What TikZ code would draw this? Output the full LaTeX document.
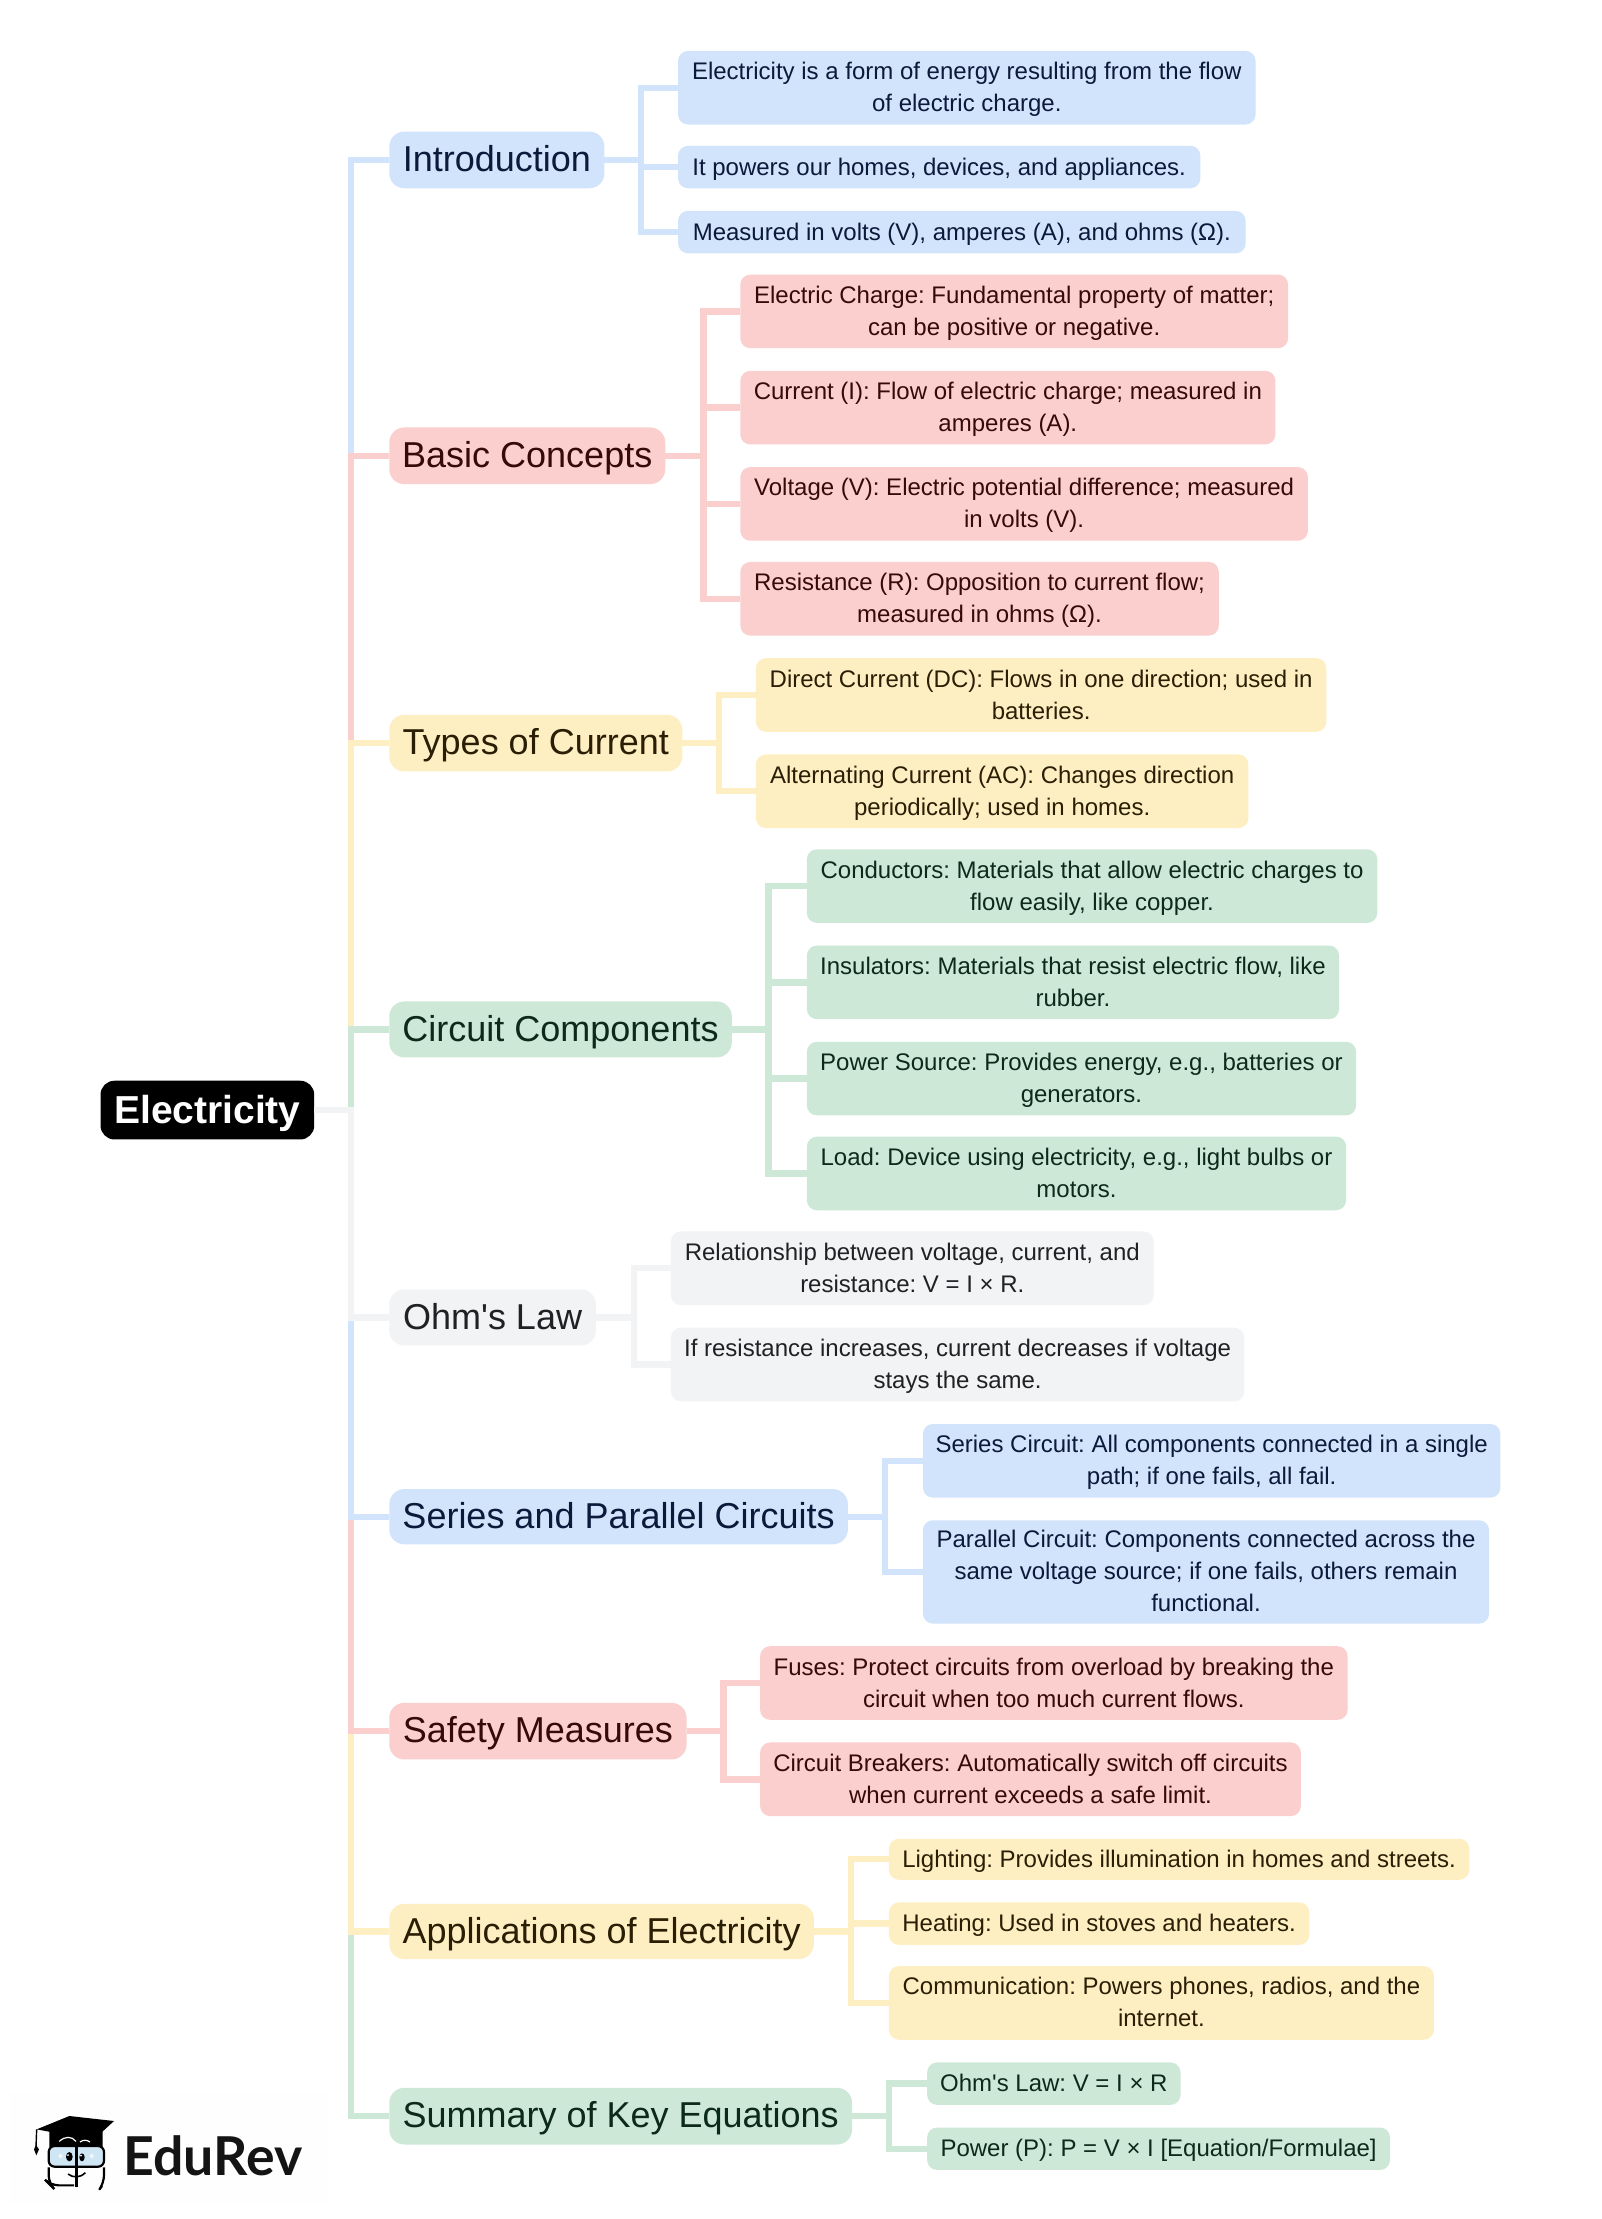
\documentclass[tikz,border=0pt]{standalone}
\usepackage{fontspec}
\newfontfamily\dia{Liberation Sans}
\newfontfamily\logofont{Lato}
\definecolor{blueF}{HTML}{D2E3FC}\definecolor{blueT}{HTML}{0A1A3A}
\definecolor{redF}{HTML}{FACFCE}\definecolor{redT}{HTML}{360A0A}
\definecolor{yelF}{HTML}{FEEFC3}\definecolor{yelT}{HTML}{2A1F05}
\definecolor{greF}{HTML}{CEE8D8}\definecolor{greT}{HTML}{0C2A1A}
\definecolor{gryF}{HTML}{F1F3F4}\definecolor{gryT}{HTML}{202124}
\definecolor{eyeblue}{HTML}{CFE6F5}
\definecolor{logobg}{HTML}{FEFEFE}
\newcommand\topstrut{\strut}
\tikzset{
  box/.style={inner sep=0pt,outer sep=0pt,align=center,anchor=center},
  rootbox/.style={box,fill=black,text=white,rounded corners=7pt,font=\dia\frenchspacing\fontsize{19.5}{24}\selectfont\bfseries,execute at begin node={\def\topstrut{\rule{0pt}{20.4pt}}}},
  branch/.style={box,rounded corners=7.5pt,font=\dia\frenchspacing\fontsize{18}{22}\selectfont,execute at begin node={\def\topstrut{\rule{0pt}{18.2pt}}}},
  leaf/.style={box,rounded corners=5pt,font=\dia\frenchspacing\fontsize{12}{16}\selectfont,execute at begin node={\def\topstrut{\rule{0pt}{12.8pt}}}},
  bl/.style={fill=blueF,text=blueT},
  rd/.style={fill=redF,text=redT},
  yl/.style={fill=yelF,text=yelT},
  gr/.style={fill=greF,text=greT},
  gy/.style={fill=gryF,text=gryT},
  conn/.style={line width=3.2pt,line join=miter,line cap=butt},
}
\newcommand\nd[7]{%
  \pgfmathsetmacro\nw{(#5-#3)*0.70775}%
  \pgfmathsetmacro\nh{(#6-#4)*0.70775}%
  \node[#2,minimum width=\nw pt,minimum height=\nh pt] (#1) at ({(#3+#5)/2},{(#4+#6)/2}) {\topstrut #7\strut};}
\newcommand\lnk[4]{\draw[conn,draw=#1] (#2.east) -- (#4 |- #2.east) -- (#4 |- #3.west) -- (#3.west);}
\begin{document}
\begin{tikzpicture}[x=0.5pt,y=-0.5pt]
\useasboundingbox (0,0) rectangle (1601,2219);
\fill[white] (0,0) rectangle (1601,2219);
\fill[logobg] (10,2092) rectangle (327,2204);
\begin{scope}[x=0.70775pt,y=-0.70775pt]
\coordinate (trunk) at (248,0);
\nd{root}{rootbox}{71}{763.5}{222}{805}{Electricity}
% branches
\nd{intro}{branch,bl}{275}{93}{427}{133}{Introduction}
\nd{basic}{branch,rd}{275}{302}{470}{342}{Basic Concepts}
\nd{types}{branch,yl}{275}{505}{482}{545}{Types of Current}
\nd{circ}{branch,gr}{275}{707.5}{517}{747}{Circuit Components}
\nd{ohm}{branch,gy}{275}{911}{421}{950.5}{Ohm's Law}
\nd{series}{branch,bl}{275}{1052}{599}{1091}{Series and Parallel Circuits}
\nd{safety}{branch,rd}{275}{1203}{485}{1243}{Safety Measures}
\nd{appl}{branch,yl}{275}{1345}{575}{1384}{Applications of Electricity}
\nd{summ}{branch,gr}{275}{1475}{602}{1515}{Summary of Key Equations}
% leaves
\nd{a1}{leaf,bl}{479}{36}{887}{88}{Electricity is a form of energy resulting from the flow\\of electric charge.}
\nd{a2}{leaf,bl}{479}{103}{848}{133}{It powers our homes, devices, and appliances.}
\nd{a3}{leaf,bl}{479}{149}{880}{179}{Measured in volts (V), amperes (A), and ohms (Ω).}
\nd{b1}{leaf,rd}{523}{194}{910}{246}{Electric Charge: Fundamental property of matter;\\can be positive or negative.}
\nd{b2}{leaf,rd}{523}{262}{901}{314}{Current (I): Flow of electric charge; measured in\\amperes (A).}
\nd{b3}{leaf,rd}{523}{330}{924}{382}{Voltage (V): Electric potential difference; measured\\in volts (V).}
\nd{b4}{leaf,rd}{523}{397}{861}{449}{Resistance (R): Opposition to current flow;\\measured in ohms (Ω).}
\nd{c1}{leaf,yl}{534}{465}{937}{517}{Direct Current (DC): Flows in one direction; used in\\batteries.}
\nd{c2}{leaf,yl}{534}{533}{882}{585}{Alternating Current (AC): Changes direction\\periodically; used in homes.}
\nd{d1}{leaf,gr}{570}{600}{973}{652}{Conductors: Materials that allow electric charges to\\flow easily, like copper.}
\nd{d2}{leaf,gr}{570}{668}{946}{720}{Insulators: Materials that resist electric flow, like\\rubber.}
\nd{d3}{leaf,gr}{570}{736}{958}{788}{Power Source: Provides energy, e.g., batteries or\\generators.}
\nd{d4}{leaf,gr}{570}{803}{951}{855}{Load: Device using electricity, e.g., light bulbs or\\motors.}
\nd{e1}{leaf,gy}{474}{870}{815}{922}{Relationship between voltage, current, and\\resistance: V = I × R.}
\nd{e2}{leaf,gy}{474}{938}{879}{990}{If resistance increases, current decreases if voltage\\stays the same.}
\nd{f1}{leaf,bl}{652}{1006}{1060}{1058}{Series Circuit: All components connected in a single\\path; if one fails, all fail.}
\nd{f2}{leaf,bl}{652}{1074}{1052}{1147}{Parallel Circuit: Components connected across the\\same voltage source; if one fails, others remain\\functional.}
\nd{g1}{leaf,rd}{537}{1163}{952}{1215}{Fuses: Protect circuits from overload by breaking the\\circuit when too much current flows.}
\nd{g2}{leaf,rd}{537}{1231}{919}{1283}{Circuit Breakers: Automatically switch off circuits\\when current exceeds a safe limit.}
\nd{h1}{leaf,yl}{628}{1299}{1038}{1328}{Lighting: Provides illumination in homes and streets.}
\nd{h2}{leaf,yl}{628}{1344}{925}{1374}{Heating: Used in stoves and heaters.}
\nd{h3}{leaf,yl}{628}{1389}{1013}{1441}{Communication: Powers phones, radios, and the\\internet.}
\nd{i1}{leaf,gr}{655}{1457}{834}{1487}{Ohm's Law: V = I × R}
\nd{i2}{leaf,gr}{655}{1503}{982}{1533}{Power (P): P = V × I [Equation/Formulae]}
% trunk connectors, nearest child painted last
\lnk{blueF}{root}{intro}{trunk}
\lnk{redF}{root}{basic}{trunk}
\lnk{yelF}{root}{types}{trunk}
\lnk{greF}{root}{circ}{trunk}
\lnk{greF}{root}{summ}{trunk}
\lnk{yelF}{root}{appl}{trunk}
\lnk{redF}{root}{safety}{trunk}
\lnk{blueF}{root}{series}{trunk}
\lnk{gryF}{root}{ohm}{trunk}
% brackets
\coordinate (xa) at (453,0);\coordinate (xb) at (497,0);\coordinate (xc) at (508,0);
\coordinate (xd) at (543,0);\coordinate (xe) at (448,0);\coordinate (xf) at (625,0);
\coordinate (xg) at (511,0);\coordinate (xh) at (601,0);\coordinate (xi) at (628,0);
\lnk{blueF}{intro}{a1}{xa}\lnk{blueF}{intro}{a2}{xa}\lnk{blueF}{intro}{a3}{xa}
\lnk{redF}{basic}{b1}{xb}\lnk{redF}{basic}{b2}{xb}\lnk{redF}{basic}{b3}{xb}\lnk{redF}{basic}{b4}{xb}
\lnk{yelF}{types}{c1}{xc}\lnk{yelF}{types}{c2}{xc}
\lnk{greF}{circ}{d1}{xd}\lnk{greF}{circ}{d2}{xd}\lnk{greF}{circ}{d3}{xd}\lnk{greF}{circ}{d4}{xd}
\lnk{gryF}{ohm}{e1}{xe}\lnk{gryF}{ohm}{e2}{xe}
\lnk{blueF}{series}{f1}{xf}\lnk{blueF}{series}{f2}{xf}
\lnk{redF}{safety}{g1}{xg}\lnk{redF}{safety}{g2}{xg}
\lnk{yelF}{appl}{h1}{xh}\lnk{yelF}{appl}{h2}{xh}\lnk{yelF}{appl}{h3}{xh}
\lnk{greF}{summ}{i1}{xi}\lnk{greF}{summ}{i2}{xi}
\end{scope}
% logo, drawn directly, in units of a third of a reference pixel
\begin{scope}[shift={(0,2060)},x=0.16667pt,y=-0.16667pt]
\fill[black] (148,212) -- (148,262) -- (308,262) -- (308,205) -- cycle;
\fill[black] (110,208) -- (208,168) -- (342,183) -- (280,240) -- cycle;
\draw[white,line width=0.6pt] (178,244) .. controls (195,228) and (215,228) .. (228,244);
\draw[white,line width=0.6pt] (240,246) .. controls (250,238) and (262,240) .. (270,246);
\draw[black,line width=0.7pt] (110,208) -- (108,262);
\fill[black] (108,255) -- (117,268) -- (109,286) -- (102,268) -- cycle;
\draw[black,line width=1.1pt,fill=eyeblue,rounded corners=3pt] (146,258) rectangle (312,320);
\draw[black,line width=1.1pt,rounded corners=4pt] (222,376) -- (152,376) -- (146,370) -- (146,322);
\draw[black,line width=1.1pt,rounded corners=4pt] (312,322) -- (312,370) -- (306,378);
\draw[black,line width=1.3pt] (230,255) -- (230,380);
\fill[black] (208,290) ellipse [x radius=10,y radius=14];
\fill[black] (246,292) ellipse [x radius=8,y radius=12];
\fill[white] (204,285) circle (3);\fill[white] (243,287) circle (3);
\fill[white!70!eyeblue] (182,288) circle (6);\fill[white!70!eyeblue] (275,288) circle (6);
\draw[black,line width=0.8pt] (204,342) .. controls (220,354) and (240,354) .. (256,338);
\end{scope}
\node[anchor=base west,inner sep=0pt,font=\logofont\bfseries\fontsize{26.8}{30}\selectfont,text=black!92] (logo) at (123,2175) {EduRev};
\end{tikzpicture}
\end{document}
